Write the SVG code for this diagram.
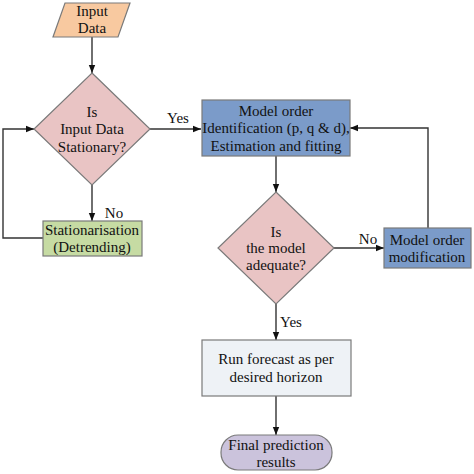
<svg xmlns="http://www.w3.org/2000/svg" width="474" height="474" viewBox="0 0 474 474">
<defs>
<marker id="ah" viewBox="0 0 10 10" refX="10" refY="5" markerWidth="8" markerHeight="8" markerUnits="userSpaceOnUse" orient="auto">
<path d="M0,1 L10,5 L0,9 z" fill="#111"/>
</marker>
<style>
text{font-family:"Liberation Serif","Times New Roman",serif;font-size:15px;fill:#111;text-anchor:middle}
.shape{stroke:#7a7a7a;stroke-width:1.2}
.con{fill:none;stroke:#333;stroke-width:1.4}
</style>
</defs>
<rect width="474" height="474" fill="#fff"/>
<g id="connectors">
<path class="con" d="M92,37 V73" marker-end="url(#ah)"/>
<path class="con" d="M150,129 H201" marker-end="url(#ah)"/>
<text x="178" y="123">Yes</text>
<path class="con" d="M92,185 V221" marker-end="url(#ah)"/>
<text x="114" y="218">No</text>
<path class="con" d="M43,238 H3 V129 H34" marker-end="url(#ah)"/>
<path class="con" d="M276,156 V192" marker-end="url(#ah)"/>
<path class="con" d="M334,248 H384" marker-end="url(#ah)"/>
<text x="368" y="244">No</text>
<path class="con" d="M428,228 V128 H350" marker-end="url(#ah)"/>
<path class="con" d="M276,304 V340" marker-end="url(#ah)"/>
<text x="291" y="327">Yes</text>
<path class="con" d="M276,396 V435" marker-end="url(#ah)"/>
</g>
<g id="input">
<polygon class="shape" points="65,3 130,3 118,37 53,37" fill="#f8c9a0"/>
<text x="92" y="16">Input</text>
<text x="92" y="33">Data</text>
</g>
<g id="stationary">
<polygon class="shape" points="92,73 150,129 92,185 34,129" fill="#e9c4c4"/>
<text x="92" y="117">Is</text>
<text x="92" y="134">Input Data</text>
<text x="92" y="152">Stationary?</text>
</g>
<g id="stationarisation">
<rect class="shape" x="43" y="221" width="99" height="35" fill="#c6dba3"/>
<text x="92" y="235">Stationarisation</text>
<text x="92" y="252">(Detrending)</text>
</g>
<g id="model">
<rect class="shape" x="202" y="100" width="148" height="56" fill="#7b9bc9"/>
<text x="276" y="116">Model order</text>
<text x="276" y="133">Identification (p, q &amp; d),</text>
<text x="276" y="151">Estimation and fitting</text>
</g>
<g id="adequate">
<polygon class="shape" points="276,192 334,248 276,304 218,248" fill="#e9c4c4"/>
<text x="276" y="237">Is</text>
<text x="276" y="253">the model</text>
<text x="276" y="270">adequate?</text>
</g>
<g id="modification">
<rect class="shape" x="384" y="228" width="87" height="40" fill="#7b9bc9"/>
<text x="427" y="245">Model order</text>
<text x="427" y="262">modification</text>
</g>
<g id="forecast">
<rect class="shape" x="202" y="340" width="149" height="56" fill="#eef2f6"/>
<text x="276" y="364">Run forecast as per</text>
<text x="276" y="382">desired horizon</text>
</g>
<g id="final">
<rect class="shape" x="221" y="435" width="111" height="35" rx="17" ry="17" fill="#cbc3dc"/>
<text x="276" y="450">Final prediction</text>
<text x="276" y="467">results</text>
</g>
</svg>
